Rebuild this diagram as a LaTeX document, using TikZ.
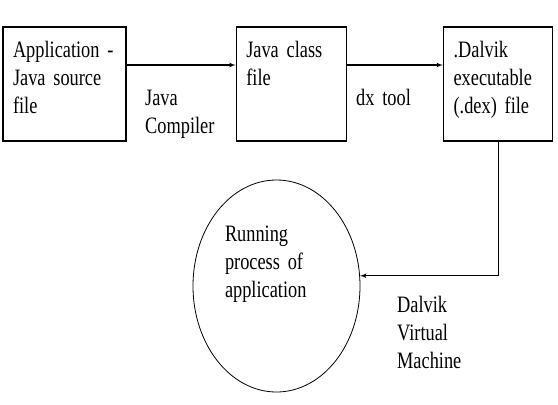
\documentclass[tikz,border=0pt]{standalone}
\usepackage{fontspec}
\setmainfont{Liberation Serif}[FakeStretch=0.78]
\usetikzlibrary{shapes,arrows,positioning}
\tikzstyle{filebox} = [rectangle, draw, line width=1.3pt, align=left,
    inner xsep=10pt, inner ysep=12pt, text height=18pt, text depth=72pt,
    font=\fontsize{23.5}{28}\selectfont]
\tikzstyle{process} = [ellipse, draw, line width=0.8pt, minimum width=167pt,
    minimum height=212pt, text width=103pt, align=left, text height=16pt,
    text depth=104.6pt, font=\fontsize{23.5}{28}\selectfont]
\tikzstyle{tag} = [text width=95pt, align=left, inner sep=0pt, anchor=base west,
    font=\fontsize{23.5}{28}\selectfont]
\tikzstyle{line} = [draw, line width=1.2pt, -latex']

\begin{document}
\begin{tikzpicture}[x=1pt, y=-1pt]
    \useasboundingbox (0,0) rectangle (558,405);
    % Place nodes
    \node [filebox, text width=103pt] (source) at (64.5,84) {Application -\\Java source\\file};
    \node [filebox, text width=90pt, right = 109pt of source] (classfile) {Java class\\file};
    \node [filebox, text width=89pt, right = 96pt of classfile] (dexfile) {.Dalvik\\executable\\(.dex) file};
    \node [process] (running) at (276.5,286) {Running\\process of\\application};
    \node [tag] (javac) at (145,105) {Java\\Compiler};
    \node [tag] (dxtool) at (356,105) {dx tool};
    \node [tag] (dvm) at (397,312) {Dalvik\\Virtual\\Machine};
    % Draw edges
    \path [line] ([yshift=19pt]source.east) -- ([yshift=19pt]classfile.west);
    \path [line] ([yshift=19pt]classfile.east) -- ([yshift=19pt]dexfile.west);
    \path [line] (dexfile.south) |- (running.7.5);
\end{tikzpicture}
\end{document}
